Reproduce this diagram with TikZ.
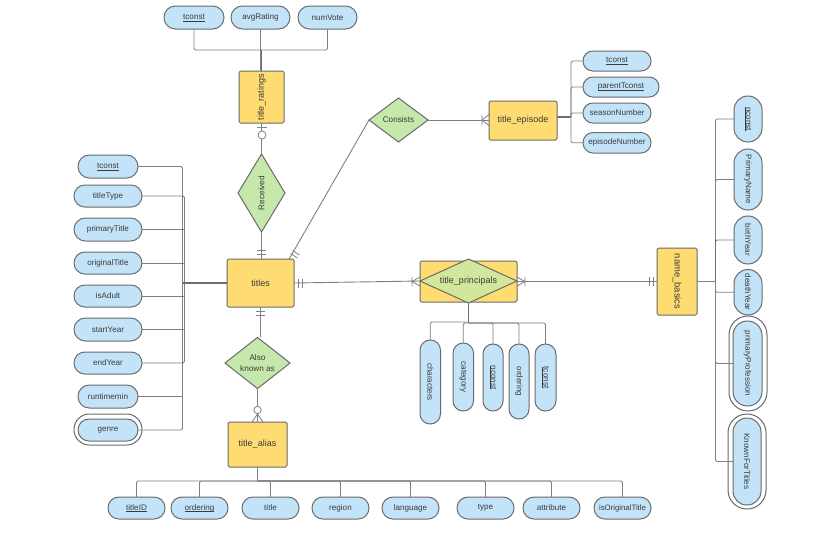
\documentclass[tikz,border=0pt]{standalone}
\usepackage{fontspec}
\usepackage{graphicx}
\setmainfont{Liberation Sans}
\usetikzlibrary{shapes.geometric,calc}
\definecolor{edgegray}{HTML}{6A6A6A}
\definecolor{linegray}{HTML}{808080}
\definecolor{textgray}{HTML}{3A3A3A}
\definecolor{attrblue}{HTML}{C3E4F8}
\definecolor{entyellow}{HTML}{FFDC71}
\definecolor{relgreen}{HTML}{C7E8AC}
\definecolor{mixgreen}{HTML}{D3E79C}
\tikzset{
  shapebase/.style={draw=edgegray,line width=1pt,inner sep=0pt,outer sep=0pt,text=textgray,align=center},
  pill/.style={shapebase,fill=attrblue,rectangle,font=\fontsize{8.1}{9.6}\selectfont},
  ringpill/.style={shapebase,fill=white,rectangle},
  entity/.style={shapebase,fill=entyellow,rectangle,rounded corners=1.5pt,font=\fontsize{9}{10.5}\selectfont},
  relation/.style={shapebase,fill=relgreen,diamond,aspect=1,font=\fontsize{8.2}{10.5}\selectfont},
  link/.style={draw=linegray,line width=0.9pt,rounded corners=1.5pt},
  thicklink/.style={draw=linegray!85!black,line width=1.5pt},
  cardmark/.style={draw=linegray,line width=0.8pt},
  cardring/.style={draw=linegray,line width=0.8pt,fill=white}
}
\newcommand{\boxat}[7]{% style, name, x1, y1, x2, y2, text
  \pgfmathsetmacro{\bw}{#5-#3}\pgfmathsetmacro{\bh}{#6-#4}
  \pgfmathsetmacro{\br}{min(\bw,\bh)/2-0.1}
  \node[#1,minimum width=\bw pt,minimum height=\bh pt,rounded corners=\br pt] (#2) at ({(#3+#5)/2},{(#4+#6)/2}) {#7};}
\newcommand{\entat}[6]{%
  \pgfmathsetmacro{\bw}{#4-#2}\pgfmathsetmacro{\bh}{#5-#3}
  \node[entity,minimum width=\bw pt,minimum height=\bh pt] (#1) at ({(#2+#4)/2},{(#3+#5)/2}) {#6};}
\newcommand{\relat}[6]{%
  \pgfmathsetmacro{\bw}{#4-#2}\pgfmathsetmacro{\bh}{#5-#3}
  \node[relation,minimum width=\bw pt,minimum height=\bh pt] (#1) at ({(#2+#4)/2},{(#3+#5)/2}) {#6};}
\newcommand{\dn}[1]{\rotatebox{-90}{#1}}
\newcommand{\up}[1]{\rotatebox{90}{#1}}
\newsavebox{\ulnbox}
\newcommand{\uln}[1]{\leavevmode\sbox{\ulnbox}{#1}\rlap{\rule[-1.5pt]{\wd\ulnbox}{0.35pt}}\usebox{\ulnbox}}
\begin{document}
\begin{tikzpicture}[x=1pt,y=-1pt]
\useasboundingbox (0,0) rectangle (822,536);
\fill[white] (0,0) rectangle (822,536);
% buses (named turning points)
\coordinate (topbus) at (261.5,50);
\coordinate (epbus) at (571,117);
\coordinate (leftbusA) at (182.5,283);
\coordinate (leftbusB) at (184.5,283);
\coordinate (botbus) at (257.5,481);
\coordinate (prinbus) at (468.5,323);
\coordinate (namebus) at (715.5,281);
% entities
\entat{ratings}{239}{71}{284}{123}{\up{title\_ratings}}
\entat{episode}{489}{101}{557}{140}{title\_episode}
\entat{titles}{227}{259}{294}{307}{titles}
\entat{alias}{228}{422}{287}{467}{title\_alias}
\entat{principals}{420}{261}{517}{302}{}
\entat{basics}{657}{248}{697}{315}{\fontsize{9.4}{11}\selectfont\dn{name\_basics}}
% relations
\relat{received}{238}{154}{285}{232}{\up{Received}}
\relat{consists}{369}{98}{428}{142}{Consists}
\relat{known}{225}{341}{290}{385}{Also\\known as}
\node[relation,fill=mixgreen,minimum width=97pt,minimum height=44pt,aspect=2,font=\fontsize{9}{10.5}\selectfont] (prinrel) at (468.5,281) {\raisebox{1.5pt}{title\_principals}};
% top attributes
\boxat{pill}{rtconst}{164}{6}{224}{29}{\uln{tconst}}
\boxat{pill}{avgrating}{231}{6}{290}{29}{avgRating}
\boxat{pill}{numvote}{298}{6}{357}{29}{numVote}
% episode attributes
\boxat{pill}{etconst}{583}{51}{651}{71}{\uln{tconst}}
\boxat{pill}{parent}{583}{77}{659}{97}{\uln{parentTconst}}
\boxat{pill}{season}{583}{103}{651}{123}{seasonNumber}
\boxat{pill}{epnum}{583}{132.5}{651}{153}{episodeNumber}
% title attributes
\boxat{pill}{ttconst}{78}{155}{138}{178}{\uln{tconst}}
\boxat{pill}{titletype}{74}{185}{142}{207}{titleType}
\boxat{pill}{primarytitle}{74}{218}{142}{241}{primaryTitle}
\boxat{pill}{originaltitle}{74}{252}{142}{274}{originalTitle}
\boxat{pill}{isadult}{74}{285}{142}{307}{isAdult}
\boxat{pill}{startyear}{74}{318}{142}{341}{startYear}
\boxat{pill}{endyear}{74}{352}{142}{374}{endYear}
\boxat{pill}{runtime}{78}{385}{138}{408}{runtimemin}
\boxat{ringpill}{genreouter}{74}{414}{142}{445}{}
\boxat{pill}{genre}{78}{419}{138}{441}{genre}
% alias attributes
\boxat{pill}{titleid}{108}{497}{165}{519}{\uln{titleID}}
\boxat{pill}{aordering}{171}{497}{228}{519}{\uln{ordering}}
\boxat{pill}{atitle}{242}{497}{299}{519}{title}
\boxat{pill}{region}{312}{497}{369}{519}{region}
\boxat{pill}{language}{382}{497}{439}{519}{language}
\boxat{pill}{atype}{457}{497}{514}{519}{type}
\boxat{pill}{attribute}{523}{497}{580}{519}{attribute}
\boxat{pill}{isoriginal}{594}{497}{651}{519}{\fontsize{7.8}{9}\selectfont isOriginalTitle}
% principals attributes
\boxat{pill}{characters}{420}{340}{440.5}{424}{\dn{characters}}
\boxat{pill}{category}{453}{343}{473.5}{411}{\dn{category}}
\boxat{pill}{pnconst}{483}{344}{503}{411}{\dn{\uln{nconst}}}
\boxat{pill}{pordering}{509}{344}{529}{419}{\dn{ordering}}
\boxat{pill}{ptconst}{535}{344}{556}{411}{\dn{\uln{tconst}}}
% name attributes
\boxat{pill}{nconst}{734}{96}{762}{142}{\dn{\uln{nconst}}}
\boxat{pill}{primaryname}{734}{149}{762}{210}{\dn{PrimaryName}}
\boxat{pill}{birthyear}{734}{216}{762}{264}{\dn{birthYear}}
\boxat{pill}{deathyear}{734}{269.5}{762}{315}{\dn{deathYear}}
\boxat{ringpill}{profouter}{729}{316}{767}{411}{}
\boxat{pill}{profession}{733}{321}{762}{406}{\dn{primaryProfession}}
\boxat{ringpill}{knownouter}{728}{414}{766}{509}{}
\boxat{pill}{knownfor}{733}{418}{761}{505}{\dn{KnownForTitles}}
% connectors: attributes
\draw[link] (rtconst.south) |- (topbus) ;
\draw[link] (numvote.south) |- (topbus);
\draw[link] (avgrating.south) -- (avgrating.south |- ratings.north);
\draw[thicklink] (topbus) -- (topbus |- ratings.north);
\draw[thicklink] (episode.east |- epbus) -- (epbus);
\draw[link] (etconst.west) -| (epbus);
\draw[link] (parent.west) -| (epbus);
\draw[link] (season.west) -| (epbus);
\draw[link] (epnum.west) -| (epbus);
\draw[link] (ttconst.east) -| (leftbusA);
\draw[link] (genre.east) -| (leftbusA);
\draw[link] (runtime.east) -- (runtime.east -| leftbusA);
\draw[link] (titletype.east) -| (leftbusB);
\draw[link] (endyear.east) -| (leftbusB);
\draw[link] (primarytitle.east) -- (primarytitle.east -| leftbusB);
\draw[link] (originaltitle.east) -- (originaltitle.east -| leftbusB);
\draw[link] (isadult.east) -- (isadult.east -| leftbusB);
\draw[link] (startyear.east) -- (startyear.east -| leftbusB);
\draw[thicklink] (leftbusA) -- (titles.west);
\draw[link] (alias.south) -- (botbus);
\foreach \n in {titleid,aordering,atitle,region,language,atype,attribute,isoriginal}
  \draw[link] (\n.north) |- (botbus);
\draw[thicklink] (prinrel.south) -- (prinbus);
\draw[link] (characters.north) |- ($(prinbus)+(0,-1)$);
\foreach \n in {category,pnconst,pordering,ptconst}
  \draw[link] (\n.north) |- (prinbus);
\draw[link] (basics.east |- namebus) -- (namebus);
\foreach \n in {nconst,primaryname,birthyear,deathyear,profession,knownfor}
  \draw[link] (\n.west) -| (namebus);
\draw[thicklink,line width=1.2pt] (birthyear.west -| namebus) -- (namebus);
% connectors: relationships
\draw[link] (ratings.south) -- (ratings.south |- received.north);
\draw[link] (received.south) -- (received.south |- titles.north);
\draw[link] (titles.40) -- (consists.west);
\draw[link] (consists.east) -- (consists.east -| episode.west);
\draw[link] (titles.east) -- (prinrel.west);
\draw[link] (prinrel.east) -- (prinrel.east -| basics.west);
\draw[link] (titles.south) -- (titles.south |- known.north);
\draw[link] (known.south) -- (alias.north);
% cardinality marks
\draw[cardmark] (257,127) -- (266.5,127);
\draw[cardring] (262,135) circle (4);
\draw[cardmark] (257,250) -- (266,250) (257,254) -- (266,254);
\draw[cardmark] (292.5,250.5) -- (299.5,255) (290.5,253.5) -- (297.5,258);
\draw[cardmark] (298,279) -- (298,288) (302,279) -- (302,288);
\draw[cardmark] (256,311) -- (265,311) (256,315) -- (265,315);
\draw[cardring] (257.5,410) circle (3.7);
\draw[cardmark] (257.5,414) -- (252,422) (257.5,414) -- (263,422);
\draw[cardmark] (482,115) -- (482,125) (482,120) -- (489,114.5) (482,120) -- (489,125.5);
\draw[cardmark] (412,277) -- (412,286) (412,281.5) -- (420,277) (412,281.5) -- (420,286);
\draw[cardmark] (525,277) -- (525,286) (525,281.5) -- (517,277) (525,281.5) -- (517,286);
\draw[cardmark] (649,277) -- (649,286) (653,277) -- (653,286);
\end{tikzpicture}
\end{document}
